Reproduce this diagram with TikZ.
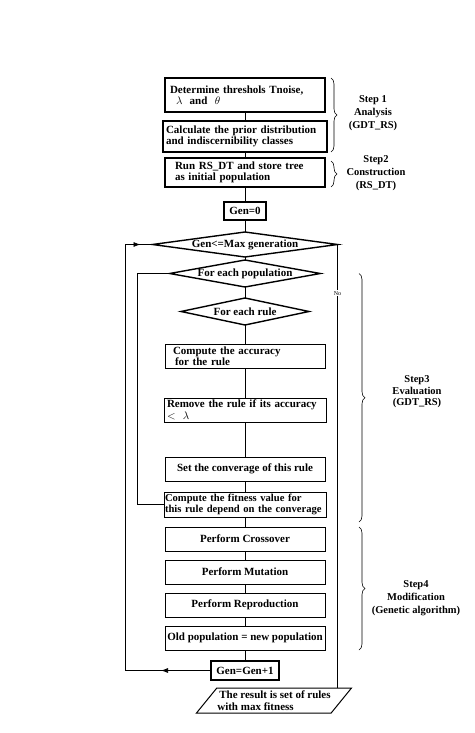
\documentclass[tikz,border=0pt]{standalone}
\usepackage{fontspec}
\setmainfont{Liberation Serif}
\usetikzlibrary{arrows.meta, positioning, shapes.geometric, decorations.pathreplacing, decorations.markings}

\begin{document}
\begin{tikzpicture}[
    font=\fontsize{11}{11.5}\selectfont\bfseries,
    box/.style={
        draw,
        rectangle,
        line width=0.7pt,
        align=center,
        minimum width=160pt,
        minimum height=24pt,
        inner xsep=2pt,
        inner ysep=0.5pt,
        outer sep=0pt
    },
    lbox/.style={box, text width=150pt, align=left, inner xsep=5pt},
    heavy/.style={line width=1.6pt},
    decision/.style={draw, diamond, line width=1.4pt, inner sep=0pt, outer sep=0pt},
    result/.style={draw, trapezium, trapezium left angle=45, trapezium right angle=135,
        trapezium stretches=true, line width=1pt, minimum width=152pt, minimum height=25pt,
        inner sep=0.5pt, outer sep=0pt, align=left},
    line/.style={line width=0.7pt},
    brace/.style={decorate, decoration={brace, amplitude=6pt}, line width=0.6pt},
    steplbl/.style={align=center, font=\fontsize{10.5}{13}\selectfont\bfseries},
    nolbl/.style={fill=white, inner sep=1pt, font=\fontsize{6}{7}\selectfont}
]
\useasboundingbox (0,0) rectangle (474pt,-733pt);

% Step 1 and Step 2
\node[lbox, heavy, minimum height=34pt] (det) at (245pt,-95pt) {%
Determine threshols Tnoise,\\
\hspace*{6pt}$\lambda$\ \ and\ \ $\theta$
};

\node[lbox, heavy, minimum height=31pt, below=9pt of det, inner xsep=3pt, text width=158pt] (calc) {%
Calculate the prior distribution\\
and indiscernibility classes
};

\node[lbox, heavy, minimum height=29pt, below=6pt of calc, inner xsep=10pt, text width=140pt] (run) {%
Run RS\_DT and store tree\\
as initial population
};

\node[box, heavy, minimum width=42pt, minimum height=18pt, below=15pt of run] (gen0) {Gen=0};

% loops
\node[decision, aspect=7.4, minimum width=185pt, minimum height=25pt, below=12pt of gen0] (maxgen) {Gen<=Max generation};

\node[decision, aspect=5.6, minimum width=141pt, minimum height=27pt, below=3pt of maxgen] (pop) {For each population};

\node[decision, aspect=4.7, minimum width=128pt, minimum height=27pt, below=11pt of pop] (rule) {For each rule};

% Step 3
\node[lbox, below=19pt of rule, inner xsep=8pt, text width=144pt] (acc) {%
Compute the accuracy\\
\hspace*{2pt}for the rule
};

\node[lbox, below=30pt of acc, inner xsep=3pt, text width=156pt] (rem) {%
Remove the rule if its accuracy\\
$<$\ \ $\lambda$
};

\node[box, below=35pt of rem] (set) {Set the converage of this rule};

\node[lbox, minimum height=25pt, below=11pt of set, inner xsep=1pt, text width=160pt,
    font=\fontsize{10.6}{11.5}\selectfont\bfseries] (fit) {%
Compute the fitness value for\\
this rule depend on the converage
};

% Step 4
\node[box, below=10pt of fit] (cross) {Perform Crossover};
\node[box, below=9pt of cross] (mut) {Perform Mutation};
\node[box, below=9pt of mut] (rep) {Perform Reproduction};
\node[box, below=9pt of rep] (old) {Old population = new population};

\node[box, heavy, minimum width=68pt, minimum height=19pt, below=11pt of old] (gen1) {Gen=Gen+1};

\node[result, below=8pt of gen1, xshift=29pt] (res) {%
\hspace*{2pt}The result is set of rules\\
with max fitness
};

% loop corners
\coordinate (outerx) at (125pt,0);
\coordinate (innerx) at (137pt,0);

% Arrows
\draw[line] (det) -- (calc);
\draw[line] (calc) -- (run);
\draw[line] (run) -- (gen0);
\draw[line] (gen0) -- (maxgen);
\draw[line] (maxgen) -- (pop);
\draw[line] (pop) -- (rule);
\draw[line] (rule) -- (acc);
\draw[line] (acc) -- (rem);
\draw[line] (rem) -- (set);
\draw[line] (set) -- (fit);
\draw[line] (fit) -- (cross);
\draw[line] (cross) -- (mut);
\draw[line] (mut) -- (rep);
\draw[line] (rep) -- (old);
\draw[line] (old) -- (gen1);

\draw[line, postaction={decorate}, decoration={markings,
    mark=at position 50pt with {\arrow{Latex[length=7pt,width=5pt]}},
    mark=at position -12pt with {\arrow{Latex[length=7pt,width=5pt]}}}]
    (gen1.west) -- (gen1.west -| outerx) |- (maxgen.west);
\draw[line] (fit.west) -- (fit.west -| innerx) |- (pop.west);
\draw[line] (maxgen.east) -- node[pos=0.11, nolbl] (no) {No} (maxgen.east |- res.north);

% Braces
\coordinate (bx1) at (331pt,0);
\coordinate (bx3) at (359pt,0);
\draw[brace] (bx1 |- det.north) -- (bx1 |- calc.south);
\draw[brace] ([yshift=-3pt]bx1 |- run.north) -- (bx1 |- run.south);
\draw[brace] (bx3 |- pop) -- ([yshift=-5pt]bx3 |- fit.south);
\draw[brace] (bx3 |- cross.north) -- (bx3 |- old.south);

\node[steplbl] (step1) at (373pt,-113pt) {Step 1\\ Analysis\\ (GDT\_RS)};
\node[steplbl] (step2) at (376pt,-173pt) {Step2\\ Construction\\ (RS\_DT)};
\node[steplbl, font=\fontsize{10.5}{11.5}\selectfont\bfseries] (step3) at (417pt,-392pt) {Step3\\ Evaluation\\ (GDT\_RS)};
\node[steplbl] (step4) at (416pt,-598pt) {Step4\\ Modification\\ (Genetic algorithm)};

\end{tikzpicture}
\end{document}
